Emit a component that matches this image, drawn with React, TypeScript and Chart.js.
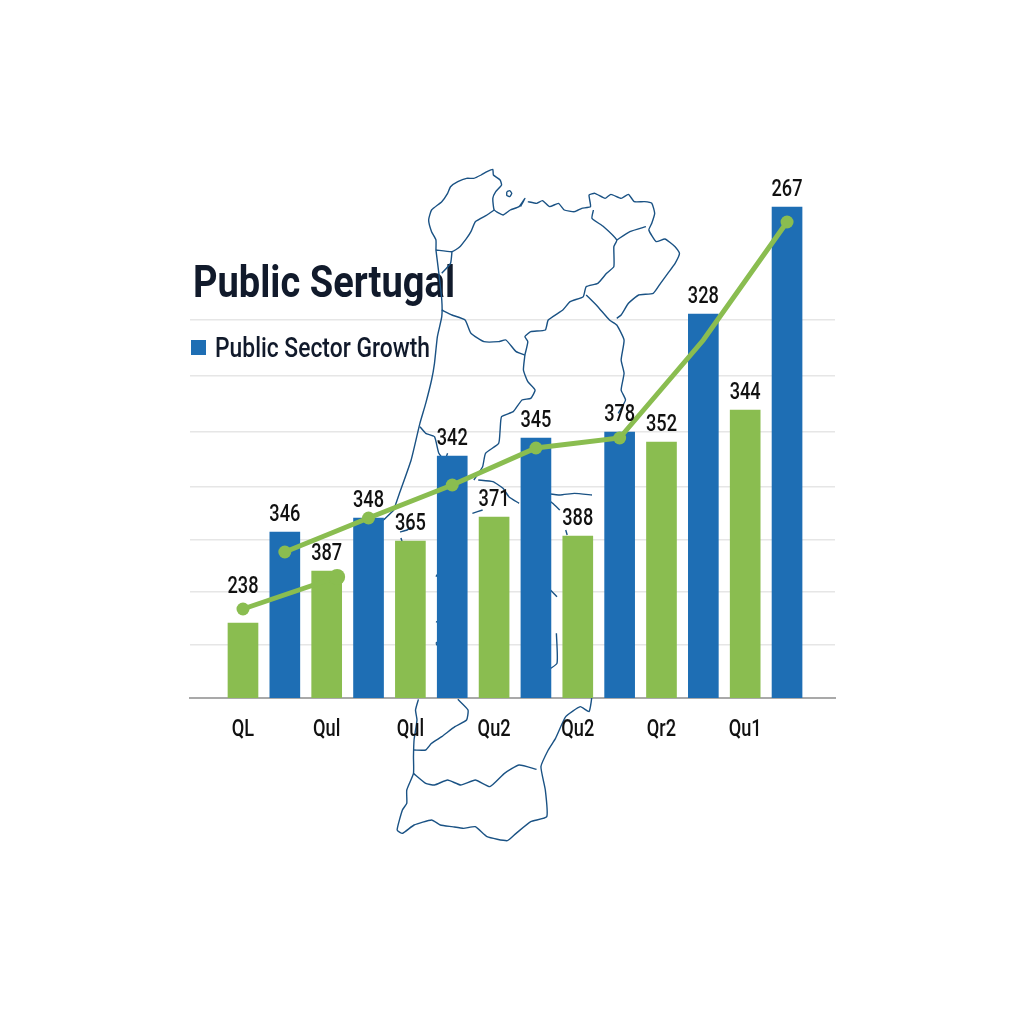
import React, { useEffect, useRef } from "react";
import { Chart, registerables } from "chart.js";

Chart.register(...registerables);

const titleText = "Public Sertugal";
const legendText = "Public Sector Growth";
const quarterLabels = ["QL", "Qul", "Qul", "Qu2", "Qu2", "Qr2", "Qu1"];
const gridValues = [53, 106, 158, 211, 266, 322, 378];

const greenBars = [75, 127, 157, 181, 162, 256, 288];
const blueBars = [166, 180, 242, 260, 266, 384, 491];
const greenLabels = ["238", "387", "365", "371", "388", "352", "344"];
const blueLabels = ["346", "348", "342", "345", "378", "328", "267"];

const shortLineX = [0, 2.25];
const shortLineY = [89, 121];
const longLineX = [1, 3, 5, 7, 9, 11, 13];
const longLineY = [146, 180, 213, 250, 260, 358, 476];

const northPaths: number[][][] = [
  [[165,270],[165,240],[150,215],[140,180],[150,150],[185,125],[205,100],[215,80],[240,65],[270,55],[295,55],[320,45],[340,35],[360,28],[362,45],[385,60],[390,75],[370,95],[360,115],[365,150],[395,165],[420,150],[450,140],[470,115],[455,140]],
  [[480,125],[510,130],[530,122],[555,140],[585,130],[605,150],[640,155],[665,145],[695,140],[690,105],[710,100],[745,115],[765,103],[800,115],[825,103],[845,125],[880,125],[905,130],[915,160],[905,190],[895,210],[920,245],[950,237],[985,260],[1000,280],[985,310],[960,340],[935,370],[910,400],[860,405],[825,430],[800,465],[785,475]],
  [[165,270],[175,340],[185,420],[185,470],[170,530],[160,610],[150,660],[130,730],[110,790],[80,900],[40,1000],[20,1050]],
  [[165,270],[220,275],[245,262],[270,235],[285,215],[300,185],[340,165],[365,150]],
  [[220,275],[215,310],[185,340]],
  [[185,450],[220,465],[265,480],[285,520],[330,545],[380,545],[405,540],[440,575],[470,585]],
  [[110,800],[130,820],[160,830],[175,880],[195,900],[205,880]],
  [[470,585],[465,630],[480,665],[505,690],[490,715],[460,720],[430,755],[390,770],[385,810],[380,850],[335,880],[325,920],[295,960]],
  [[470,585],[480,545],[470,530],[490,515],[540,510],[550,480],[600,450],[625,425],[670,410],[680,380],[720,370],[750,340],[775,320],[775,260],[785,240],[740,200],[700,175],[705,150]],
  [[785,240],[830,215],[885,200]],
  [[680,405],[720,440],[760,480],[785,495],[810,540],[800,600],[810,640],[800,690],[815,720],[790,760]],
  [[408,95],[418,92],[425,100],[418,110],[408,106],[408,95]],
  [[310,960],[360,965],[395,985],[415,1010],[450,1030]],
  [[540,1000],[590,1005],[640,1000],[700,1005]],
  [[540,1012],[565,1030],[590,1050]],
];

const southPaths: number[][][] = [
  [[135,628],[125,660],[130,690],[120,750],[118,800],[118,850],[95,900],[95,940],[80,960],[62,1020],[80,1030],[120,1005],[180,990],[210,1005],[250,1010],[290,1015],[330,1010],[370,1040],[440,1052],[470,1030],[520,995],[575,980],[570,900],[555,830],[580,780],[605,745],[640,680],[690,650],[720,665],[730,605],[700,605]],
  [[118,850],[160,880],[190,885],[235,870],[280,885],[330,870],[380,890],[430,850],[480,825],[540,838]],
  [[270,628],[305,660],[300,690],[260,710],[215,740],[180,760],[160,780],[120,780]],
  [[320,70],[355,60]],
  [[195,260],[230,215]],
  [[72,320],[100,300],[105,350],[80,320],[75,395]],
  [[195,395],[230,405]],
  [[195,460],[235,430]],
  [[195,460],[235,510]],
  [[70,490],[105,515],[85,480],[70,490]],
  [[570,285],[610,320]],
  [[695,265],[730,285],[720,320],[695,350]],
  [[570,545],[610,520],[608,430]],
  [[640,120],[645,135]],
  [[51,60],[15,90],[-30,111],[-24,171],[-54,249]],
  [[72,126],[96,120],[111,111]],
  [[75,144],[84,171],[75,186]],
  [[-55,405],[-20,400],[-15,415]],
  [[-22,500],[-20,520]],
];

const BLUE = "#1e6eb4";
const GREEN = "#8abd50";
const INK = "#111a2b";
const FONT = 'Roboto, "Liberation Sans", sans-serif';

function toBars(values: number[], start: number) {
  return values.map((y, i) => ({ x: start + i * 2, y }));
}
function toPoints(xs: number[], ys: number[]) {
  return xs.map((x, i) => ({ x, y: ys[i] }));
}
function squeezed(ctx: any, text: string, x: number, y: number, sx: number) {
  ctx.save();
  ctx.translate(x, y);
  ctx.scale(sx, 1);
  ctx.fillText(text, 0, 0);
  ctx.restore();
}

const textPlugin = {
  id: "chartText",
  beforeDatasetsDraw(chart: any) {
    const { ctx } = chart;
    ctx.save();
    ctx.textBaseline = "alphabetic";
    ctx.textAlign = "left";
    ctx.fillStyle = INK;
    ctx.font = `bold 44px ${FONT}`;
    squeezed(ctx, titleText, 193, 297, 262 / ctx.measureText(titleText).width);
    ctx.fillStyle = BLUE;
    ctx.fillRect(191, 340, 15, 15);
    ctx.fillStyle = INK;
    ctx.font = `500 27px ${FONT}`;
    squeezed(ctx, legendText, 215, 357, 215 / ctx.measureText(legendText).width);
    ctx.restore();
  },
  afterDatasetsDraw(chart: any) {
    const { ctx, scales } = chart;
    ctx.save();
    ctx.textAlign = "center";
    ctx.textBaseline = "middle";
    ctx.fillStyle = "#111111";
    ctx.font = `500 24px ${FONT}`;
    const sx = 31 / ctx.measureText("346").width;
    greenLabels.forEach((t, i) => {
      const x = scales.x.getPixelForValue(i * 2);
      const y = i === 0
        ? scales.y.getPixelForValue(shortLineY[0]) - 22
        : scales.y.getPixelForValue(greenBars[i]) - 17;
      squeezed(ctx, t, x, y, sx);
    });
    blueLabels.forEach((t, i) => {
      const x = scales.x.getPixelForValue(i * 2 + 1);
      squeezed(ctx, t, x, scales.y.getPixelForValue(blueBars[i]) - 17, sx);
    });
    quarterLabels.forEach((t, i) => {
      squeezed(ctx, t, scales.x.getPixelForValue(i * 2), 730, sx);
    });
    ctx.restore();
  },
};

export default function App() {
  const ref = useRef<HTMLCanvasElement>(null);
  useEffect(() => {
    const mapStyle = {
      type: "line" as const,
      xAxisID: "mx",
      yAxisID: "my",
      borderColor: "#1a5284",
      borderWidth: 1.4,
      pointRadius: 0,
      tension: 0.15,
      clip: false as any,
      order: 10,
    };
    const north = northPaths.map((p) => ({
      ...mapStyle,
      data: p.map(([x, y]) => ({ x: 370 + x / 3, y: 160 + y / 3 })),
    }));
    const south = southPaths.map((p) => ({
      ...mapStyle,
      data: p.map(([x, y]) => ({ x: 360 + x / 3, y: 490 + y / 3 })),
    }));
    const lineStyle = {
      type: "line" as const,
      borderColor: GREEN,
      backgroundColor: GREEN,
      borderWidth: 5,
      pointBorderWidth: 0,
      clip: false as any,
      order: 1,
    };
    const chart = new Chart(ref.current!, {
      type: "bar",
      data: {
        datasets: [
          ...north,
          ...south,
          { type: "bar", data: toBars(greenBars, 0), backgroundColor: GREEN, barThickness: 30, grouped: false, order: 5 },
          { type: "bar", data: toBars(blueBars, 1), backgroundColor: BLUE, barThickness: 30, grouped: false, order: 5 },
          { ...lineStyle, data: toPoints(shortLineX, shortLineY), pointRadius: [6.5, 8] },
          { ...lineStyle, data: toPoints(longLineX, longLineY), pointRadius: [6.5, 6.5, 6.5, 6.5, 6.5, 0, 6.5] },
        ] as any,
      },
      options: {
        responsive: false,
        animation: false,
        layout: { padding: { left: 190, right: 189, top: 150, bottom: 0 } },
        plugins: { legend: { display: false }, tooltip: { enabled: false } },
        scales: {
          x: {
            type: "linear",
            offset: false,
            min: -1.266,
            max: 14.146,
            grid: { display: false },
            border: { color: "#a9a9a9", width: 2 },
            afterFit: (s: any) => {
              s.height = 326;
            },
            ticks: { display: false },
          },
          y: {
            type: "linear",
            min: 0,
            max: 548,
            afterBuildTicks: (s: any) => {
              s.ticks = gridValues.map((value) => ({ value }));
            },
            grid: { color: "#e6e6e6", lineWidth: 1.5, drawTicks: false },
            border: { display: false },
            ticks: { display: false },
          },
          mx: { type: "linear", display: false, min: 190, max: 835 },
          my: { type: "linear", display: false, min: 150, max: 698, reverse: true },
        },
      },
      plugins: [textPlugin],
    });
    return () => chart.destroy();
  }, []);
  return (
    <div style={{ position: "absolute", left: 0, top: 0, width: 1024, height: 1024, background: "#fff" }}>
      <canvas ref={ref} width={1024} height={1024} style={{ display: "block" }} />
    </div>
  );
}
